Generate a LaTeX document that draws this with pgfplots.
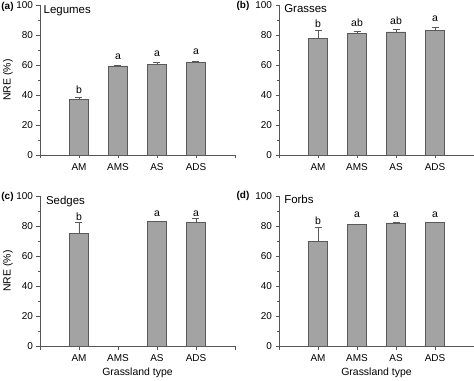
\documentclass[border=0pt]{standalone}
\usepackage{fontspec}
\setmainfont{Liberation Sans}
\usepackage{pgfplots}
\pgfplotsset{compat=1.18}
\definecolor{axgray}{HTML}{555555}
\definecolor{barfill}{HTML}{A3A3A3}
\definecolor{bardraw}{HTML}{5A5A5A}
\tikzset{sig/.style={font=\fontsize{10.5}{12}\selectfont, inner sep=0pt, anchor=center},
  ttl/.style={anchor=west, inner sep=0pt, font=\fontsize{11.5}{13}\selectfont}}
\pgfplotsset{
  panel/.style={
    scale only axis, width=195bp, height=150bp,
    xmin=0, xmax=5, ymin=0, ymax=100,
    axis lines=left, axis line style={-, draw=axgray, line width=0.6pt},
    xtick={0,1,2,3,4,5}, xticklabels={,AM,AMS,AS,ADS,},
    ytick={0,20,40,60,80,100}, minor y tick num=1,
    tick align=outside, major tick length=3.5bp, minor tick length=2bp,
    every tick/.style={draw=axgray, line width=0.6pt},
    ybar, bar width=0.49,
    every tick label/.append style={font=\fontsize{10}{12}\selectfont},
    xticklabel style={yshift=-2bp},
    /pgf/number format/assume math mode=true,
    clip=false,
  },
  barstyle/.style={fill=barfill, draw=bardraw, line width=0.6pt,
    error bars/.cd, y dir=plus, y explicit,
    error bar style={draw=bardraw, line width=0.6pt},
    error mark options={rotate=90, mark size=3.5bp, draw=bardraw, line width=0.6pt}},
}
\begin{document}
\begin{tikzpicture}
\path[use as bounding box] (0,0) rectangle (474bp,381bp);
% (a) Legumes
\begin{axis}[panel, at={(40bp,226bp)}, anchor=south west]
\addplot[barstyle] coordinates {(1,37.3) +- (0,1.2) (2,59.4) +- (0,0.5) (3,60.6) +- (0,1.0) (4,61.9) +- (0,0.4)};
\node[sig] at (axis cs:1,43.3) {b};
\node[sig] at (axis cs:2,65.5) {a};
\node[sig] at (axis cs:3,67.8) {a};
\node[sig] at (axis cs:4,68.9) {a};
\node[ttl] at (axis cs:0.09,96) {Legumes};
\end{axis}
% (b) Grasses
\begin{axis}[panel, at={(279bp,226bp)}, anchor=south west]
\addplot[barstyle] coordinates {(1,77.8) +- (0,5.3) (2,81.3) +- (0,1.4) (3,82.0) +- (0,2.0) (4,83.1) +- (0,2.2)};
\node[sig] at (axis cs:1,87.3) {b};
\node[sig] at (axis cs:2,88.2) {ab};
\node[sig] at (axis cs:3,89.3) {ab};
\node[sig] at (axis cs:4,90.7) {a};
\node[ttl] at (axis cs:0.13,97.3) {Grasses};
\end{axis}
% (c) Sedges
\begin{axis}[panel, at={(40bp,35bp)}, anchor=south west]
\addplot[barstyle] coordinates {(1,75.1) +- (0,7.3) (3,82.9) +- (0,0.3) (4,82.4) +- (0,2.7)};
\node[sig] at (axis cs:1,86.2) {b};
\node[sig] at (axis cs:3,88.4) {a};
\node[sig] at (axis cs:4,88.4) {a};
\node[ttl] at (axis cs:0.15,96.3) {Sedges};
\end{axis}
% (d) Forbs
\begin{axis}[panel, at={(279bp,35bp)}, anchor=south west]
\addplot[barstyle] coordinates {(1,69.8) +- (0,9.3) (2,81.1) +- (0,0.3) (3,82.0) +- (0,0.2) (4,82.3) +- (0,0.2)};
\node[sig] at (axis cs:1,83.5) {b};
\node[sig] at (axis cs:2,87.3) {a};
\node[sig] at (axis cs:3,87.3) {a};
\node[sig] at (axis cs:4,87.3) {a};
\node[ttl] at (axis cs:0.13,97.8) {Forbs};
\end{axis}
% panel labels
\node[font=\bfseries\fontsize{10}{12}\selectfont] at (7.5bp,374bp) {(a)};
\node[font=\bfseries\fontsize{10}{12}\selectfont] at (243bp,375bp) {(b)};
\node[font=\bfseries\fontsize{10}{12}\selectfont] at (7.5bp,184bp) {(c)};
\node[font=\bfseries\fontsize{10}{12}\selectfont] at (243bp,185bp) {(d)};
% axis titles
\node[rotate=90, font=\fontsize{10.5}{12}\selectfont] at (8bp,301bp) {NRE (\%)};
\node[rotate=90, font=\fontsize{10.5}{12}\selectfont] at (8bp,110bp) {NRE (\%)};
\node[font=\fontsize{10.5}{12}\selectfont] at (137.5bp,8bp) {Grassland type};
\node[font=\fontsize{10.5}{12}\selectfont] at (376.5bp,8bp) {Grassland type};
\end{tikzpicture}
\end{document}
